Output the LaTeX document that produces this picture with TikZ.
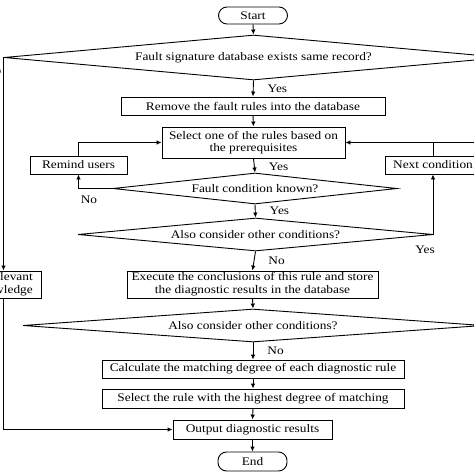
\documentclass[tikz,border=0pt]{standalone}
\usepackage{fontspec}
\setmainfont{Liberation Serif}[FakeStretch=1.15]
\usetikzlibrary{shapes.geometric,arrows.meta}
\begin{document}
\begin{tikzpicture}[x=1pt,y=-1pt,
  font=\fontsize{11.6}{12.7}\selectfont,
  box/.style={draw, rectangle, inner sep=0pt, align=center, line width=0.9pt},
  term/.style={draw, rectangle, rounded corners=8.5pt, inner sep=0pt, line width=0.9pt},
  dec/.style={draw, diamond, inner sep=0pt, aspect=#1, line width=0.9pt},
  conn/.style={line width=0.9pt, -{Latex[length=5pt,width=4.5pt]}},
  plain/.style={line width=0.9pt},
  lbl/.style={inner sep=0pt}]
\useasboundingbox (0,0) rectangle (474,474);
\clip (0,0) rectangle (474,474);
\fill[white] (0,0) rectangle (474,474);

\node[term, minimum width=69pt, minimum height=17pt] (start) at (253,15.5) {Start};
\node[dec=11, minimum width=499pt, minimum height=45pt] (d1) at (253.5,57.5) {Fault signature database exists same record?};
\node[box, minimum width=264pt, minimum height=18pt] (remove) at (253,106) {Remove the fault rules into the database};
\node[box, minimum width=183pt, minimum height=31pt] (select) at (253.5,142.5) {Select one of the rules based on\\the prerequisites};
\node[box, minimum width=97pt, minimum height=18pt] (remind) at (78.5,165) {Remind users};
\node[box, minimum width=96pt, minimum height=18pt] (next) at (433,165) {Next condition};
\node[dec=9, minimum width=284pt, minimum height=31pt] (d2) at (255,188.5) {Fault condition known?};
\node[dec=10, minimum width=355pt, minimum height=33pt] (d3) at (255.5,234.5) {Also consider other conditions?};
\node[box, minimum width=251pt, minimum height=27pt] (exec) at (252.5,284.5) {Execute the conclusions of this rule and store\\the diagnostic results in the database};
\node[box, align=right, minimum width=76pt, minimum height=27pt] (rel) at (3.5,284.5) {Relevant\\knowledge};
\node[dec=13, minimum width=460pt, minimum height=33pt] (d4) at (253,325.5) {Also consider other conditions?};
\node[box, minimum width=302pt, minimum height=18pt] (calc) at (253,369) {Calculate the matching degree of each diagnostic rule};
\node[box, minimum width=302pt, minimum height=19pt] (selrule) at (253,398.5) {Select the rule with the highest degree of matching};
\node[box, minimum width=159pt, minimum height=19pt] (output) at (252.5,429.5) {Output diagnostic results};
\node[term, minimum width=69pt, minimum height=19pt] (end) at (252.5,461.5) {End};
\coordinate (redge) at (476,142.5);

\draw[conn] (start.south) -- (d1.north);
\draw[conn] (d1.south) -- node[lbl, pos=0.5, right=14pt] (y1) {Yes} (remove.north);
\draw[conn] (remove.south) -- (select.north);
\draw[conn] (select.south) -- node[lbl, pos=0.6, right=14pt] (y2) {Yes} (d2.north);
\draw[conn] (d2.west) -| (remind.south);
\node[lbl] (n2) at (89,200) {No};
\draw[conn] (remind.north) |- (select.west);
\draw[conn] (d2.south) -- node[lbl, pos=0.5, right=14pt] (y3) {Yes} (d3.north);
\draw[conn] (d3.east) -| (next.south);
\node[lbl] (y4) at (425,250) {Yes};
\draw[conn] (next.north) |- (select.east);
\draw[plain] (next.north |- select.east) -- (redge);
\draw[conn] (d3.south) -- node[lbl, pos=0.5, right=14pt] (n3) {No} (exec.north);
\draw[conn] (d1.west) -| (rel.north);
\node[lbl, anchor=east] (n1) at (1.5,71) {No};
\draw[conn] (rel.south) |- (output.west);
\draw[conn] (exec.south) -- (d4.north);
\draw[conn] (d4.south) -- node[lbl, pos=0.5, right=14pt] (n4) {No} (calc.north);
\draw[conn] (calc.south) -- (selrule.north);
\draw[conn] (selrule.south) -- (output.north);
\draw[conn] (output.south) -- (end.north);
\end{tikzpicture}
\end{document}
